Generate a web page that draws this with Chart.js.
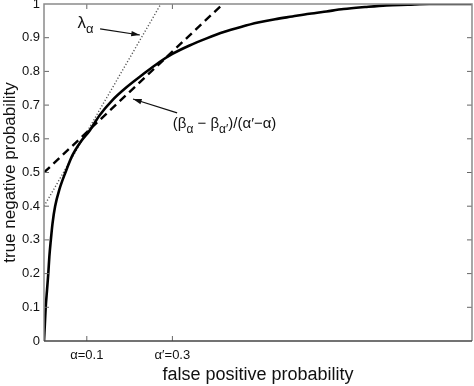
<!DOCTYPE html>
<html>
<head>
<meta charset="utf-8">
<script src="https://cdn.jsdelivr.net/npm/chart.js@4/dist/chart.umd.min.js"></script>
<style>
  html, body { margin: 0; padding: 0; background: #fff; }
  #wrap { width: 474px; height: 386px; }
</style>
</head>
<body>
<div id="wrap"><canvas id="c" width="474" height="386"></canvas></div>
<script>
// curve
const curveX = [0, 0.002, 0.004, 0.007, 0.010, 0.0125, 0.016, 0.020, 0.026, 0.036, 0.050, 0.066, 0.085, 0.107, 0.13, 0.16, 0.19, 0.23, 0.27, 0.30, 0.34, 0.38, 0.42, 0.46, 0.50, 0.54, 0.58, 0.62, 0.66, 0.70, 0.75, 0.80, 0.85, 0.90, 0.95, 1.0]
const curveY = [0, 0.05, 0.10, 0.15, 0.20, 0.25, 0.30, 0.35, 0.40, 0.45, 0.50, 0.55, 0.59, 0.625, 0.67, 0.715, 0.75, 0.79, 0.828, 0.852, 0.877, 0.898, 0.917, 0.932, 0.945, 0.955, 0.963, 0.971, 0.978, 0.985, 0.991, 0.996, 0.998, 1.0, 1.0, 1.0]
// secant (dashed) and tangent (dotted) lines
const secantX = [0, 0.418]
const secantY = [0.5, 1]
const tangentX = [0, 0.273]
const tangentY = [0.4, 1]
// x ticks
const xTicks = [0.1, 0.3]
const xTickLabels = ['α=0.1', 'α\u2032=0.3']

const pts = (xs, ys) => xs.map((x, i) => ({x: x, y: ys[i]}))

const FONT = "'Liberation Sans', Arial, Helvetica, sans-serif"

function arrow(ctx, x1, y1, x2, y2) {
  const a = Math.atan2(y2 - y1, x2 - x1)
  ctx.beginPath()
  ctx.moveTo(x1, y1)
  ctx.lineTo(x2, y2)
  ctx.stroke()
  ctx.beginPath()
  ctx.moveTo(x2, y2)
  ctx.lineTo(x2 - 9 * Math.cos(a - 0.3), y2 - 9 * Math.sin(a - 0.3))
  ctx.lineTo(x2 - 9 * Math.cos(a + 0.3), y2 - 9 * Math.sin(a + 0.3))
  ctx.closePath()
  ctx.fill()
}

// text with subscripts: parts = [[text, isSub]]
function rich(ctx, x, y, parts, size, subSize) {
  ctx.textBaseline = 'alphabetic'
  ctx.textAlign = 'left'
  for (const [t, sub] of parts) {
    ctx.font = (sub ? subSize : size) + 'px ' + FONT
    ctx.fillText(t, x, sub ? y + 5 : y)
    x += ctx.measureText(t).width
  }
}

const frame = {
  id: 'frame',
  afterDraw(chart) {
    const {ctx, chartArea: a, scales: {x, y}} = chart
    ctx.save()
    // inward ticks
    ctx.strokeStyle = '#666'
    ctx.lineWidth = 1
    ctx.beginPath()
    for (const v of xTicks) {
      const px = x.getPixelForValue(v)
      ctx.moveTo(px, a.bottom); ctx.lineTo(px, a.bottom - 5)
      ctx.moveTo(px, a.top); ctx.lineTo(px, a.top + 5)
    }
    for (let i = 1; i < 10; i++) {
      const py = y.getPixelForValue(i / 10)
      ctx.moveTo(a.left, py); ctx.lineTo(a.left + 5, py)
      ctx.moveTo(a.right, py); ctx.lineTo(a.right - 5, py)
    }
    ctx.stroke()
    // box
    ctx.lineWidth = 1.5
    ctx.strokeStyle = '#8a8a8a'
    ctx.beginPath()
    ctx.moveTo(a.left, a.bottom); ctx.lineTo(a.left, a.top)
    ctx.lineTo(a.right, a.top); ctx.lineTo(a.right, a.bottom)
    ctx.stroke()
    ctx.strokeStyle = '#444'
    ctx.beginPath()
    ctx.moveTo(a.left, a.bottom); ctx.lineTo(a.right, a.bottom)
    ctx.stroke()

    // annotations
    ctx.fillStyle = '#111'
    ctx.strokeStyle = '#111'
    ctx.lineWidth = 1.2
    arrow(ctx, x.getPixelForValue(0.131), y.getPixelForValue(0.926),
               x.getPixelForValue(0.224), y.getPixelForValue(0.908))
    arrow(ctx, x.getPixelForValue(0.311), y.getPixelForValue(0.677),
               x.getPixelForValue(0.208), y.getPixelForValue(0.718))
    rich(ctx, x.getPixelForValue(0.078), y.getPixelForValue(0.928),
         [['λ', false], ['α', true]], 17, 13)
    rich(ctx, x.getPixelForValue(0.301), y.getPixelForValue(0.632),
         [['(β', false], ['α', true], [' \u2212 β', false], ['α\u2032', true], [')/(α\u2032\u2212α)', false]], 15, 12)
    ctx.restore()
  }
}

function fixPad(scale) {
  scale.paddingTop = 0
  scale.paddingBottom = 0
  scale.paddingLeft = 0
  scale.paddingRight = 0
}

new Chart(document.getElementById('c').getContext('2d'), {
  type: 'line',
  data: {
    datasets: [
      {
        data: pts(curveX, curveY),
        borderColor: '#000',
        borderWidth: 2.6,
        pointRadius: 0,
        cubicInterpolationMode: 'monotone',
      },
      {
        data: pts(secantX, secantY),
        borderColor: '#000',
        borderWidth: 2.4,
        borderDash: [8, 5],
        pointRadius: 0,
      },
      {
        data: pts(tangentX, tangentY),
        borderColor: '#555',
        borderWidth: 1.4,
        borderDash: [1.2, 2],
        pointRadius: 0,
      },
    ],
  },
  options: {
    animation: false,
    responsive: false,
    maintainAspectRatio: false,
    layout: { padding: { top: 4, right: 2, left: 0, bottom: 0 } },
    plugins: { legend: { display: false }, tooltip: { enabled: false } },
    scales: {
      x: {
        type: 'linear',
        min: 0,
        max: 1,
        grid: { display: false, drawTicks: false, tickLength: 0 },
        border: { display: false },
        afterBuildTicks: (axis) => { axis.ticks = xTicks.map(v => ({value: v})) },
        afterFit: (scale) => { scale.height = 45; fixPad(scale) },
        ticks: {
          autoSkip: false,
          maxRotation: 0,
          padding: 7,
          color: '#111',
          font: { family: FONT, size: 13 },
          callback: (v, i) => xTickLabels[i],
        },
        title: {
          display: true,
          text: 'false positive probability',
          color: '#111',
          padding: { top: 0, bottom: 0 },
          font: { family: FONT, size: 18 },
        },
      },
      y: {
        min: 0,
        max: 1,
        grid: { display: false, drawTicks: false, tickLength: 0 },
        border: { display: false },
        afterFit: (scale) => { scale.width = 44; fixPad(scale) },
        ticks: {
          stepSize: 0.1,
          padding: 4,
          color: '#111',
          font: { family: FONT, size: 13 },
          callback: (v) => String(Math.round(v * 10) / 10),
        },
        title: {
          display: true,
          text: 'true negative probability',
          color: '#111',
          padding: { top: 0, bottom: 0 },
          font: { family: FONT, size: 17 },
        },
      },
    },
  },
  plugins: [frame],
})
</script>
</body>
</html>
